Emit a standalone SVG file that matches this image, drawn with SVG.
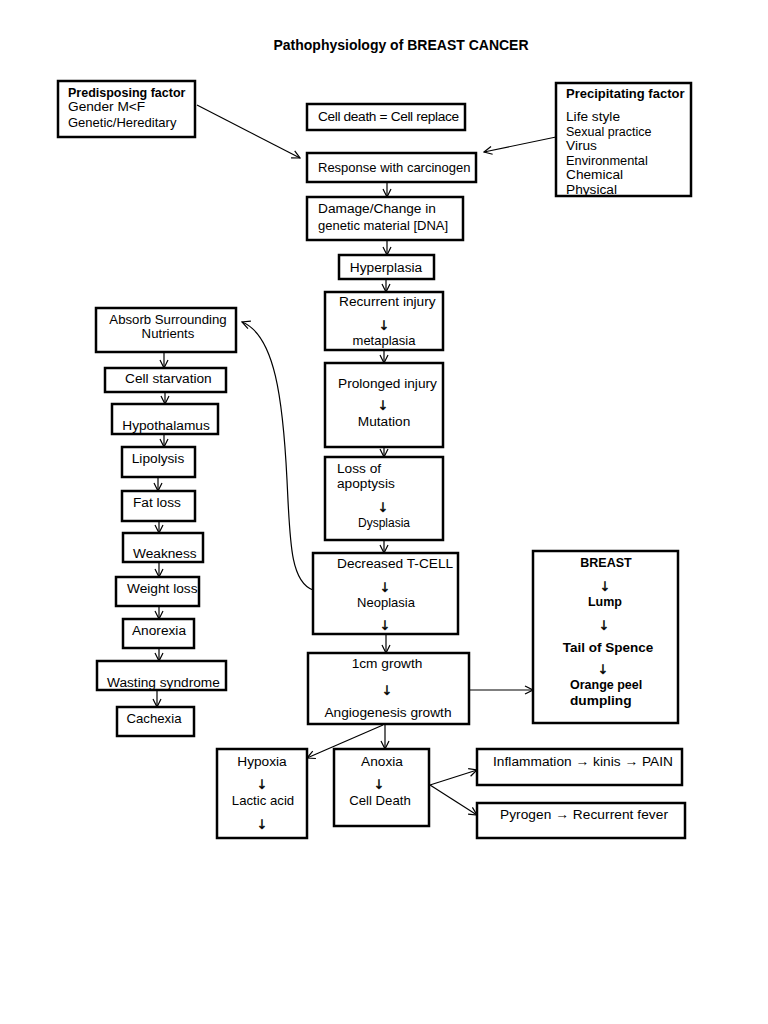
<svg xmlns="http://www.w3.org/2000/svg" width="768" height="1024" viewBox="0 0 768 1024">
<style>
text{font-family:"Liberation Sans",Arial,sans-serif;font-size:13.7px;fill:#000}
.b{font-weight:bold}
.s{font-size:12.5px}
.xs{font-size:12px}
.m{text-anchor:middle}
.ar{font-family:"DejaVu Sans",sans-serif;font-size:13px;fill:#000;stroke:#000;stroke-width:0.4}
rect{fill:#fff;stroke:#000;stroke-width:2.5}
.c path,.c line{fill:none;stroke:#000;stroke-width:1.2}
</style>
<defs>
<marker id="a" viewBox="0 0 10 10" refX="9" refY="5" markerWidth="10" markerHeight="10" markerUnits="userSpaceOnUse" orient="auto">
<path d="M1,1 L9,5 L1,9" fill="none" stroke="#000" stroke-width="1.2"/>
</marker>
</defs>
<rect x="0" y="0" width="768" height="1024" style="stroke:none"/>
<text class="b m" x="401" y="50" style="font-size:14px">Pathophysiology of BREAST CANCER</text>

<g id="predisposing"><rect x="58" y="81" width="137" height="56"/>
<text class="b s" x="68" y="97">Predisposing factor</text>
<text x="68" y="111">Gender M&lt;F</text>
<text x="68" y="127" style="font-size:13px">Genetic/Hereditary</text></g>

<g id="celldeath"><rect x="307" y="104" width="158" height="26"/>
<text x="318" y="121" textLength="141">Cell death = Cell replace</text></g>

<g id="precipitating"><rect x="556" y="83" width="135" height="113"/>
<text class="b" x="566" y="98" style="font-size:13px">Precipitating factor</text>
<text x="566" y="121">Life style</text>
<text class="s" x="566" y="136">Sexual practice</text>
<text x="566" y="150">Virus</text>
<text x="566" y="165" style="font-size:12.8px">Environmental</text>
<text x="566" y="179">Chemical</text>
<text x="566" y="194">Physical</text></g>

<g id="response"><rect x="307" y="153" width="169" height="29"/>
<text x="318" y="172" style="font-size:13px">Response with carcinogen</text></g>

<g id="damage"><rect x="307" y="197" width="156" height="43"/>
<text x="318" y="213">Damage/Change in</text>
<text x="318" y="230" style="font-size:13px">genetic material [DNA]</text></g>

<g id="hyperplasia"><rect x="339" y="255" width="95" height="24"/>
<text class="m" x="386" y="272">Hyperplasia</text></g>

<g id="recurrent"><rect x="325" y="292" width="118" height="58"/>
<text x="339" y="306">Recurrent injury</text>
<text class="ar m" x="384" y="330">↓</text>
<text class="m" x="384" y="345" style="font-size:13px">metaplasia</text></g>

<g id="prolonged"><rect x="325" y="363" width="118" height="84"/>
<text x="338" y="388">Prolonged injury</text>
<text class="ar m" x="383" y="410">↓</text>
<text class="m" x="384" y="426">Mutation</text></g>

<g id="apoptysis"><rect x="325" y="457" width="118" height="83"/>
<text x="337" y="473">Loss of</text>
<text x="337" y="488">apoptysis</text>
<text class="ar m" x="383" y="512">↓</text>
<text class="xs m" x="384" y="527">Dysplasia</text></g>

<g id="tcell"><rect x="313" y="553" width="145" height="81"/>
<text x="337" y="568">Decreased T-CELL</text>
<text class="ar m" x="385" y="592">↓</text>
<text class="m" x="386" y="607" style="font-size:13px">Neoplasia</text>
<text class="ar m" x="385" y="630">↓</text></g>

<g id="growth"><rect x="308" y="653" width="161" height="71"/>
<text class="m" x="387" y="668">1cm growth</text>
<text class="ar m" x="387" y="695">↓</text>
<text class="m" x="388" y="717">Angiogenesis growth</text></g>

<g id="breast"><rect x="533" y="551" width="145" height="172"/>
<text class="b s m" x="606" y="567">BREAST</text>
<text class="ar m" x="605" y="591">↓</text>
<text class="b s m" x="605" y="606">Lump</text>
<text class="ar m" x="604" y="630">↓</text>
<text class="b m" x="608" y="652" style="font-size:13.5px">Tail of Spence</text>
<text class="ar m" x="603" y="674">↓</text>
<text class="b s" x="570" y="689">Orange peel</text>
<text class="b" x="570" y="705">dumpling</text></g>

<g id="absorb"><rect x="96" y="308" width="140" height="44"/>
<text class="m" x="168" y="324" style="font-size:13.2px">Absorb Surrounding</text>
<text class="m" x="168" y="338" style="font-size:13.2px">Nutrients</text></g>

<g id="starvation"><rect x="105" y="368" width="121" height="24"/>
<text x="125" y="383">Cell starvation</text></g>

<g id="hypothalamus"><rect x="112" y="404" width="106" height="30"/>
<text class="m" x="166" y="430">Hypothalamus</text></g>

<g id="lipolysis"><rect x="122" y="447" width="73" height="30"/>
<text class="m" x="158" y="463">Lipolysis</text></g>

<g id="fatloss"><rect x="122" y="491" width="73" height="30"/>
<text x="133" y="507">Fat loss</text></g>

<g id="weakness"><rect x="123" y="533" width="80" height="29"/>
<text x="133" y="558">Weakness</text></g>

<g id="weightloss"><rect x="116" y="577" width="83" height="29"/>
<text x="127" y="593">Weight loss</text></g>

<g id="anorexia"><rect x="123" y="619" width="71" height="29"/>
<text class="m" x="159" y="635">Anorexia</text></g>

<g id="wasting"><rect x="97" y="661" width="129" height="29"/>
<text x="107" y="687">Wasting syndrome</text></g>

<g id="cachexia"><rect x="117" y="707" width="77" height="29"/>
<text class="m" x="154" y="723" style="font-size:13.2px">Cachexia</text></g>

<g id="hypoxia"><rect x="217" y="749" width="90" height="89"/>
<text class="m" x="262" y="766">Hypoxia</text>
<text class="ar m" x="262" y="789">↓</text>
<text class="m" x="263" y="805" style="font-size:13.2px">Lactic acid</text>
<text class="ar m" x="262" y="829">↓</text></g>

<g id="anoxia"><rect x="334" y="749" width="95" height="77"/>
<text class="m" x="382" y="766">Anoxia</text>
<text class="ar m" x="379" y="789">↓</text>
<text class="m" x="380" y="805" style="font-size:13.2px">Cell Death</text></g>

<g id="inflammation"><rect x="477" y="749" width="205" height="36"/>
<text x="493" y="766" textLength="180">Inflammation → kinis → PAIN</text></g>

<g id="pyrogen"><rect x="477" y="803" width="208" height="35"/>
<text x="500" y="819" textLength="168">Pyrogen → Recurrent fever</text></g>

<g id="connectors" class="c">
<line x1="197" y1="105" x2="300" y2="158" marker-end="url(#a)"/>
<line x1="556" y1="137" x2="484" y2="152" marker-end="url(#a)"/>
<line x1="387" y1="183" x2="387" y2="197" marker-end="url(#a)"/>
<line x1="387" y1="241" x2="387" y2="255" marker-end="url(#a)"/>
<line x1="386" y1="280" x2="386" y2="292" marker-end="url(#a)"/>
<line x1="384" y1="351" x2="384" y2="363" marker-end="url(#a)"/>
<line x1="384" y1="448" x2="384" y2="457" marker-end="url(#a)"/>
<line x1="384" y1="541" x2="384" y2="553" marker-end="url(#a)"/>
<line x1="386" y1="635" x2="386" y2="653" marker-end="url(#a)"/>
<line x1="469" y1="690" x2="533" y2="690" marker-end="url(#a)"/>
<line x1="385" y1="725" x2="385" y2="749" marker-end="url(#a)"/>
<line x1="383" y1="725" x2="307" y2="758" marker-end="url(#a)"/>
<line x1="430" y1="785" x2="477" y2="770" marker-end="url(#a)"/>
<line x1="430" y1="785" x2="477" y2="815" marker-end="url(#a)"/>
<path d="M313,590 C290,582 290,540 287,480 C283,400 275,335 242,322" marker-end="url(#a)"/>
<line x1="164" y1="353" x2="164" y2="368" marker-end="url(#a)"/>
<line x1="165" y1="393" x2="165" y2="404" marker-end="url(#a)"/>
<line x1="164" y1="435" x2="164" y2="447" marker-end="url(#a)"/>
<line x1="158" y1="478" x2="158" y2="491" marker-end="url(#a)"/>
<line x1="159" y1="522" x2="159" y2="533" marker-end="url(#a)"/>
<line x1="159" y1="563" x2="159" y2="577" marker-end="url(#a)"/>
<line x1="159" y1="607" x2="159" y2="619" marker-end="url(#a)"/>
<line x1="159" y1="649" x2="159" y2="661" marker-end="url(#a)"/>
<line x1="157" y1="691" x2="157" y2="707" marker-end="url(#a)"/>
</g>
</svg>
